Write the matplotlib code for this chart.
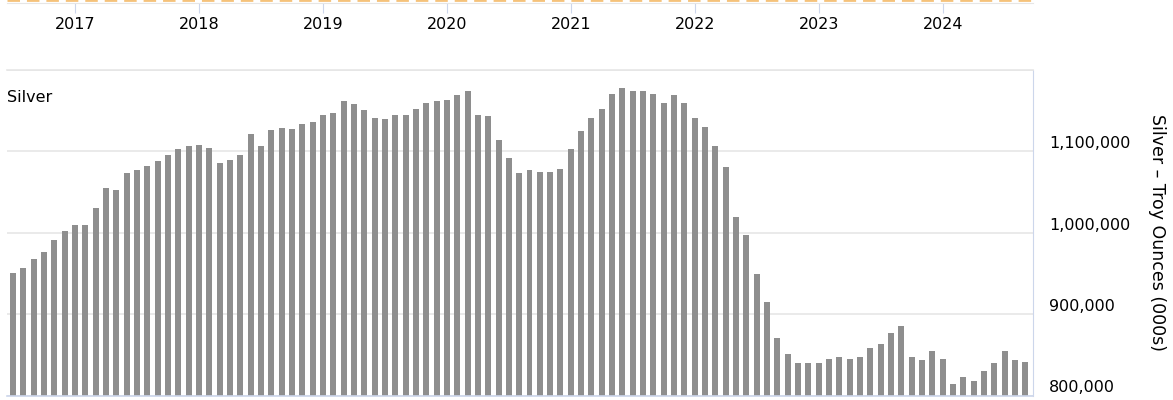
import pandas as pd
import matplotlib
matplotlib.use("Agg")
import matplotlib.pyplot as plt

# monthly silver stocks (thousand troy ounces), Jul 2016 - Sep 2024
silver = [950900, 956200, 967300, 976800, 991600, 1002700, 1010100, 1010100, 1030200, 1054600,
          1052500, 1073100, 1076800, 1082100, 1087900, 1095300, 1102700, 1106400, 1108000, 1104300,
          1085800, 1089500, 1095300, 1121200, 1106400, 1126500, 1128600, 1128100, 1134000, 1136000,
          1145100, 1147200, 1162000, 1158600, 1150900, 1141400, 1139800, 1145100, 1145100, 1152500,
          1159900, 1162000, 1163600, 1169400, 1174700, 1145100, 1143500, 1113800, 1091600, 1073100,
          1076800, 1074700, 1074700, 1078400, 1103100, 1125300, 1141400, 1152500, 1171000, 1178400,
          1174700, 1174700, 1171000, 1159900, 1169400, 1159900, 1141400, 1130200, 1106400, 1080500,
          1019100, 996900, 948800, 915400, 871000, 850900, 839800, 839800, 839800, 845100,
          847100, 845100, 847100, 858300, 863600, 876800, 885800, 847100, 843400, 854500,
          845100, 813800, 822800, 817500, 830200, 839800, 854500, 843400, 841400]
months = pd.date_range("2016-07-01", periods=len(silver), freq="MS")
y_ticks = [800000, 900000, 1000000, 1100000]

plt.rcParams['font.family'] = ['DejaVu Sans']
fs = 11.5

W, H = 1173, 400
fig = plt.figure(figsize=(W / 100, H / 100), dpi=100)

left, right, top, bottom = 7, 1033, 70, 395.5
ax = fig.add_axes([left / W, 1 - bottom / H, (right - left) / W, (bottom - top) / H])

x = list(range(len(silver)))
ax.bar(x, silver, width=0.58, color="#8e8e8e", zorder=2)
ax.set_xlim(-0.58, 98.74)
ax.set_ylim(800000, 1200000)

# grid + frame
ax.set_yticks(y_ticks + [1200000])
ax.yaxis.grid(True, color="#e6e6e6", linewidth=1.2, zorder=0)
ax.set_axisbelow(True)
ax.set_xticks([])
ax.spines["left"].set_visible(False)
ax.spines["top"].set_color("#e6e6e6")
ax.spines["top"].set_linewidth(1.2)
ax.spines["right"].set_color("#ccd6eb")
ax.spines["bottom"].set_color("#ccd6eb")
ax.spines["bottom"].set_linewidth(1.2)

ax.yaxis.tick_right()
ax.tick_params(axis="y", length=0, pad=11.5, labelsize=fs)
ax.set_yticklabels([f"{v:,}" for v in y_ticks] + [""])
for lbl in ax.get_yticklabels():
    lbl.set_va("bottom")

ax.yaxis.set_label_position("right")
ax.set_ylabel("Silver – Troy Ounces (000s)", rotation=270, fontsize=12.5, va="center", ha="center")
ax.yaxis.set_label_coords((1157 - left) / (right - left), 0.5)

ax.text(0, (bottom - 97) / (bottom - top), "Silver", transform=ax.transAxes,
        ha="left", va="center", fontsize=fs)

# top date axis with dashed band edge
axt = fig.add_axes([left / W, 1 - 2.5 / H, (right - left) / W, 2.5 / H])
axt.set_xlim(ax.get_xlim())
axt.set_ylim(0, 1)
axt.set_yticks([])
for s in ["left", "right", "top"]:
    axt.spines[s].set_visible(False)
axt.spines["bottom"].set_color("#e6e6e6")
axt.axhline(1, color="#f5c27a", linewidth=2, linestyle=(0, (4.5, 2.5)), clip_on=False)
year_pos = [i for i, m in enumerate(months) if m.month == 1]
axt.set_xticks(year_pos)
axt.set_xticklabels([str(months[i].year) for i in year_pos])
axt.tick_params(axis="x", length=7.5, color="#ccd6eb", pad=3, labelsize=fs)

fig.savefig("out.png", dpi=100)
